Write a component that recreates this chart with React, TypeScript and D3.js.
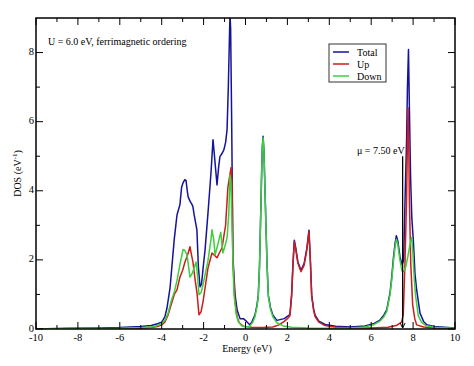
import React from "react";
import * as d3 from "d3";

// Energy (eV), DOS (eV^-1) pairs
const totalDOS: [number, number][] = [
  [-10, 0], [-8.5, 0.02], [-7, 0.03], [-6, 0.04], [-5, 0.07], [-4.5, 0.1], [-4.2, 0.15], [-4.0, 0.2],
  [-3.85, 0.35], [-3.75, 0.6], [-3.6, 1.2], [-3.5, 1.9], [-3.4, 2.6], [-3.27, 3.3], [-3.13, 3.6],
  [-3.05, 4.1], [-2.98, 4.23], [-2.9, 4.32], [-2.84, 4.3], [-2.78, 4.0], [-2.74, 3.83], [-2.65, 3.7],
  [-2.55, 3.6], [-2.51, 3.54], [-2.45, 3.3], [-2.32, 2.87], [-2.25, 1.8], [-2.17, 1.22], [-2.1, 1.3],
  [-2.0, 1.9], [-1.93, 2.29], [-1.79, 3.36], [-1.65, 4.5], [-1.55, 5.48], [-1.48, 5.0], [-1.36, 4.17],
  [-1.28, 4.7], [-1.22, 4.99], [-1.1, 5.1], [-1.03, 5.19], [-0.95, 5.4], [-0.88, 5.77], [-0.82, 7.0],
  [-0.76, 8.6], [-0.74, 9.1], [-0.71, 8.7], [-0.66, 6.0], [-0.6, 2.09], [-0.5, 1.0], [-0.4, 0.55],
  [-0.26, 0.3], [-0.1, 0.3], [0.05, 0.22], [0.2, 0.12], [0.3, 0.2], [0.45, 0.4], [0.55, 0.7],
  [0.61, 0.98], [0.67, 1.85], [0.71, 2.9], [0.76, 4.25], [0.8, 5.25], [0.84, 5.58], [0.88, 5.15],
  [0.93, 4.05], [0.98, 2.9], [1.03, 1.85], [1.09, 0.98], [1.2, 0.6], [1.31, 0.4], [1.5, 0.25],
  [1.85, 0.3], [2.12, 0.42], [2.2, 0.98], [2.27, 1.94], [2.33, 2.57], [2.4, 2.34], [2.5, 1.94],
  [2.65, 1.7], [2.8, 1.9], [2.93, 2.34], [3.03, 2.86], [3.1, 1.94], [3.16, 0.98], [3.25, 0.58],
  [3.32, 0.4], [3.5, 0.23], [3.8, 0.13], [4.3, 0.08], [5, 0.06], [5.7, 0.09], [6.1, 0.15], [6.4, 0.25],
  [6.6, 0.4], [6.74, 0.55], [6.9, 1.05], [6.98, 1.5], [7.06, 2.05], [7.14, 2.48], [7.2, 2.7],
  [7.27, 2.55], [7.37, 2.1], [7.47, 1.86], [7.55, 2.0], [7.61, 3.6], [7.69, 5.5], [7.73, 7.0],
  [7.78, 8.09], [7.82, 6.5], [7.88, 4.4], [7.94, 3.2], [8.01, 2.58], [8.09, 1.6], [8.17, 1.13],
  [8.33, 0.46], [8.5, 0.22], [8.65, 0.12], [9, 0.07], [10, 0.03],
];

const upDOS: [number, number][] = [
  [-10, 0], [-8, 0.005], [-6, 0.01], [-5, 0.02], [-4.5, 0.04], [-4.2, 0.07], [-4.0, 0.12],
  [-3.85, 0.2], [-3.7, 0.4], [-3.55, 0.7], [-3.4, 1.0], [-3.27, 1.13], [-3.13, 1.5], [-3.0, 1.7],
  [-2.89, 1.94], [-2.79, 2.09], [-2.65, 2.38], [-2.58, 2.15], [-2.51, 1.94], [-2.4, 1.4],
  [-2.32, 1.07], [-2.22, 0.41], [-2.12, 0.5], [-2.03, 0.78], [-1.79, 1.77], [-1.6, 2.2],
  [-1.36, 2.06], [-1.25, 2.2], [-1.12, 2.35], [-1.03, 2.7], [-0.95, 3.0], [-0.84, 4.1], [-0.69, 4.67],
  [-0.64, 4.2], [-0.6, 1.9], [-0.5, 0.8], [-0.4, 0.35], [-0.3, 0.18], [-0.1, 0.08], [0.3, 0.05],
  [0.8, 0.04], [1.3, 0.06], [1.6, 0.12], [1.85, 0.22], [2.0, 0.3], [2.12, 0.38], [2.2, 0.94],
  [2.27, 1.9], [2.33, 2.53], [2.4, 2.3], [2.5, 1.9], [2.65, 1.66], [2.8, 1.85], [2.93, 2.3],
  [3.03, 2.82], [3.1, 1.9], [3.16, 0.94], [3.25, 0.55], [3.32, 0.36], [3.5, 0.2], [3.8, 0.1],
  [4.3, 0.05], [5, 0.03], [6, 0.03], [6.8, 0.05], [7.2, 0.1], [7.45, 0.2], [7.53, 0.41],
  [7.61, 1.86], [7.69, 3.8], [7.73, 5.5], [7.76, 6.4], [7.79, 5.5], [7.82, 3.8], [7.89, 1.86],
  [7.98, 0.7], [8.08, 0.3], [8.17, 0.12], [8.5, 0.06], [9, 0.03], [10, 0.01],
];

const downDOS: [number, number][] = [
  [-10, 0], [-8.5, 0.01], [-6, 0.02], [-5, 0.04], [-4.5, 0.06], [-4.2, 0.1], [-4.0, 0.15],
  [-3.85, 0.25], [-3.7, 0.45], [-3.55, 0.8], [-3.4, 1.07], [-3.27, 1.4], [-3.13, 1.86],
  [-2.98, 2.3], [-2.9, 2.28], [-2.79, 2.14], [-2.65, 1.5], [-2.55, 1.6], [-2.45, 1.77],
  [-2.36, 1.94], [-2.3, 1.6], [-2.22, 0.99], [-2.12, 1.05], [-2.03, 1.28], [-1.8, 1.94],
  [-1.65, 2.58], [-1.6, 2.87], [-1.52, 2.6], [-1.45, 2.14], [-1.32, 2.45], [-1.18, 2.8],
  [-1.08, 2.2], [-0.98, 2.4], [-0.88, 2.64], [-0.8, 3.3], [-0.74, 4.46], [-0.7, 4.3], [-0.62, 2.4],
  [-0.55, 1.0], [-0.45, 0.45], [-0.35, 0.22], [-0.2, 0.1], [0, 0.06], [0.2, 0.08], [0.35, 0.2],
  [0.45, 0.35], [0.55, 0.65], [0.61, 0.93], [0.67, 1.8], [0.71, 2.87], [0.76, 4.2], [0.8, 5.2],
  [0.84, 5.54], [0.88, 5.1], [0.93, 4.0], [0.98, 2.87], [1.03, 1.8], [1.09, 0.93], [1.2, 0.55],
  [1.31, 0.35], [1.5, 0.18], [1.8, 0.09], [2.2, 0.05], [3, 0.03], [4, 0.02], [5, 0.03], [5.7, 0.06],
  [6.1, 0.12], [6.4, 0.22], [6.6, 0.35], [6.74, 0.5], [6.9, 1.0], [6.98, 1.42], [7.06, 1.95],
  [7.14, 2.38], [7.2, 2.6], [7.27, 2.45], [7.37, 2.0], [7.47, 1.68], [7.55, 1.66], [7.65, 1.8],
  [7.75, 2.1], [7.85, 2.45], [7.93, 2.65], [7.98, 2.3], [8.05, 1.5], [8.12, 0.95], [8.25, 0.38],
  [8.4, 0.2], [8.6, 0.1], [9, 0.05], [10, 0.02],
];

const xTicks = [-10, -8, -6, -4, -2, 0, 2, 4, 6, 8, 10];
const xMinorTicks = [-9, -7, -5, -3, -1, 1, 3, 5, 7, 9];
const yTicks = [0, 2, 4, 6, 8];
const yMinorTicks = [1, 3, 5, 7];

const seriesNames = ["Total", "Up", "Down"];
const seriesColors = ["#14149a", "#cc1c1c", "#3ccf3c"];
const fermiLevel = 7.5;
const fermiTop = 5.0;
const titleText = "U = 6.0 eV, ferrimagnetic ordering";
const fermiLabel = "\u03bc = 7.50 eV";

export default function App() {
  const L = 36, R = 455, T = 18, B = 329;
  const x = d3.scaleLinear().domain([-10, 10]).range([L, R]);
  const y = d3.scaleLinear().domain([0, 9]).range([B, T]);
  const line = d3.line<[number, number]>().x(d => x(d[0])).y(d => y(d[1]));
  const allSeries = [totalDOS, upDOS, downDOS];
  const font = "'Liberation Serif', 'DejaVu Serif', serif";
  const major = 7, minor = 4;

  return (
    <svg width={474} height={366} style={{ position: "absolute", left: 0, top: 0, background: "#fff" }}
      fontFamily={font}>
      <defs>
        <clipPath id="plotclip">
          <rect x={L} y={T} width={R - L} height={B - T} />
        </clipPath>
      </defs>
      <rect x={0} y={0} width={474} height={366} fill="#fff" />
      <g clipPath="url(#plotclip)">
        {allSeries.map((s, i) => (
          <path key={i} d={line(s) || ""} fill="none" stroke={seriesColors[i]} strokeWidth={1.5}
            strokeLinejoin="round" />
        ))}
      </g>
      {/* Fermi level arrow */}
      <line x1={x(fermiLevel)} x2={x(fermiLevel)} y1={y(fermiTop)} y2={y(0) - 1} stroke="#000" strokeWidth={1.3} />
      <path d={`M${x(fermiLevel) - 2.5},${y(0) - 6} L${x(fermiLevel)},${y(0) - 1} L${x(fermiLevel) + 2.5},${y(0) - 6}`}
        fill="none" stroke="#000" strokeWidth={1} />
      <text x={357} y={154} fontSize={10}>{fermiLabel}</text>

      {/* Frame */}
      <rect x={L} y={T} width={R - L} height={B - T} fill="none" stroke="#000" strokeWidth={1.5} />
      {/* X ticks */}
      {xTicks.map(t => (
        <g key={"xt" + t}>
          <line x1={x(t)} x2={x(t)} y1={B} y2={B - major} stroke="#000" strokeWidth={1} />
          <line x1={x(t)} x2={x(t)} y1={T} y2={T + major} stroke="#000" strokeWidth={1} />
          <text x={x(t)} y={341} fontSize={10.5} textAnchor="middle">{t}</text>
        </g>
      ))}
      {xMinorTicks.map(t => (
        <g key={"xm" + t}>
          <line x1={x(t)} x2={x(t)} y1={B} y2={B - minor} stroke="#000" strokeWidth={1} />
          <line x1={x(t)} x2={x(t)} y1={T} y2={T + minor} stroke="#000" strokeWidth={1} />
        </g>
      ))}
      {/* Y ticks */}
      {yTicks.map(t => (
        <g key={"yt" + t}>
          <line x1={L} x2={L + major} y1={y(t)} y2={y(t)} stroke="#000" strokeWidth={1} />
          <line x1={R} x2={R - major} y1={y(t)} y2={y(t)} stroke="#000" strokeWidth={1} />
          <text x={34} y={y(t) + 2.5} fontSize={10.5} textAnchor="end">{t}</text>
        </g>
      ))}
      {yMinorTicks.map(t => (
        <g key={"ym" + t}>
          <line x1={L} x2={L + minor} y1={y(t)} y2={y(t)} stroke="#000" strokeWidth={1} />
          <line x1={R} x2={R - minor} y1={y(t)} y2={y(t)} stroke="#000" strokeWidth={1} />
        </g>
      ))}
      {/* Axis labels */}
      <text x={247} y={352} fontSize={10} textAnchor="middle">Energy (eV)</text>
      <text transform={`translate(21,${(T + B) / 2}) rotate(-90)`} fontSize={10} textAnchor="middle">
        DOS (eV<tspan dy={-4} fontSize={7}>-1</tspan><tspan dy={4}>)</tspan>
      </text>
      {/* Title */}
      <text x={48} y={45} fontSize={10}>{titleText}</text>
      {/* Legend */}
      <rect x={329} y={44} width={57} height={38} fill="#fff" stroke="#333" strokeWidth={1} />
      {seriesNames.map((n, i) => {
        const yy = 52 + i * 12;
        return (
          <g key={n}>
            <line x1={333} x2={349} y1={yy} y2={yy} stroke={seriesColors[i]} strokeWidth={1.5} />
            <text x={357} y={yy + 3.5} fontSize={10}>{n}</text>
          </g>
        );
      })}
    </svg>
  );
}
